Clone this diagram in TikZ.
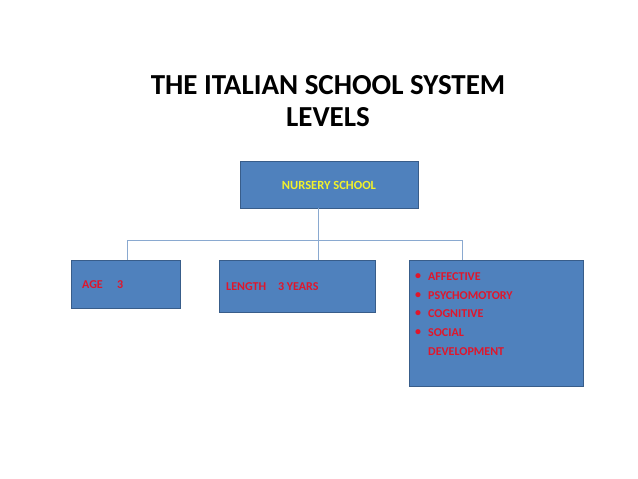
\documentclass[tikz,border=0pt]{standalone}
\usepackage{fontspec}
\setmainfont{Carlito}
\definecolor{boxblue}{HTML}{4F81BD}
\definecolor{boxedge}{HTML}{385D8A}
\definecolor{txtred}{HTML}{E0162B}
\definecolor{txtyel}{HTML}{F2F22A}
\definecolor{linec}{HTML}{8AA9D0}
\begin{document}
\begin{tikzpicture}[x=1pt,y=-1pt,
  bx/.style={draw=boxedge,fill=boxblue,line width=0.8pt},
  rt/.style={text=txtred,font=\bfseries\fontsize{12}{14}\selectfont,anchor=west,inner sep=0pt}]
\useasboundingbox (0,0) rectangle (638,479);
\fill[white] (0,0) rectangle (638,479);
\node[font=\bfseries\fontsize{29}{32}\selectfont,align=center] (title) at (328,101) {THE ITALIAN SCHOOL SYSTEM\\LEVELS};
\draw[bx] (240,161) rectangle (418,208);
\node[text=txtyel,font=\bfseries\fontsize{12.5}{14}\selectfont] (top) at (329,185) {NURSERY SCHOOL};
\draw[bx] (71,260) rectangle (180,308);
\draw[bx] (219,260) rectangle (375,312);
\draw[bx] (409,260) rectangle (583,386);
\coordinate (tb) at (318,208);
\coordinate (j) at (318,240);
\coordinate (l) at (127,240);
\coordinate (r) at (462,240);
\coordinate (lb) at (127,260);
\coordinate (mb) at (318,260);
\coordinate (rb) at (462,260);
\draw[linec,line width=0.8pt] (tb) -- (mb);
\draw[linec,line width=0.8pt] (lb) -- (l) -- (r) -- (rb);
\node[rt] (age) at (82,285) {AGE\hspace{1.2em}3};
\node[rt] (len) at (226,287) {LENGTH\hspace{1em}3 YEARS};
\foreach \t/\yy [count=\i] in {AFFECTIVE/277,PSYCHOMOTORY/296,COGNITIVE/314,SOCIAL/333}{
  \node[rt] (b\i) at (415,\yy) {\textbullet};
  \node[rt] (t\i) at (428,\yy) {\t};
}
\node[rt] (t5) at (428,352) {DEVELOPMENT};
\end{tikzpicture}
\end{document}
